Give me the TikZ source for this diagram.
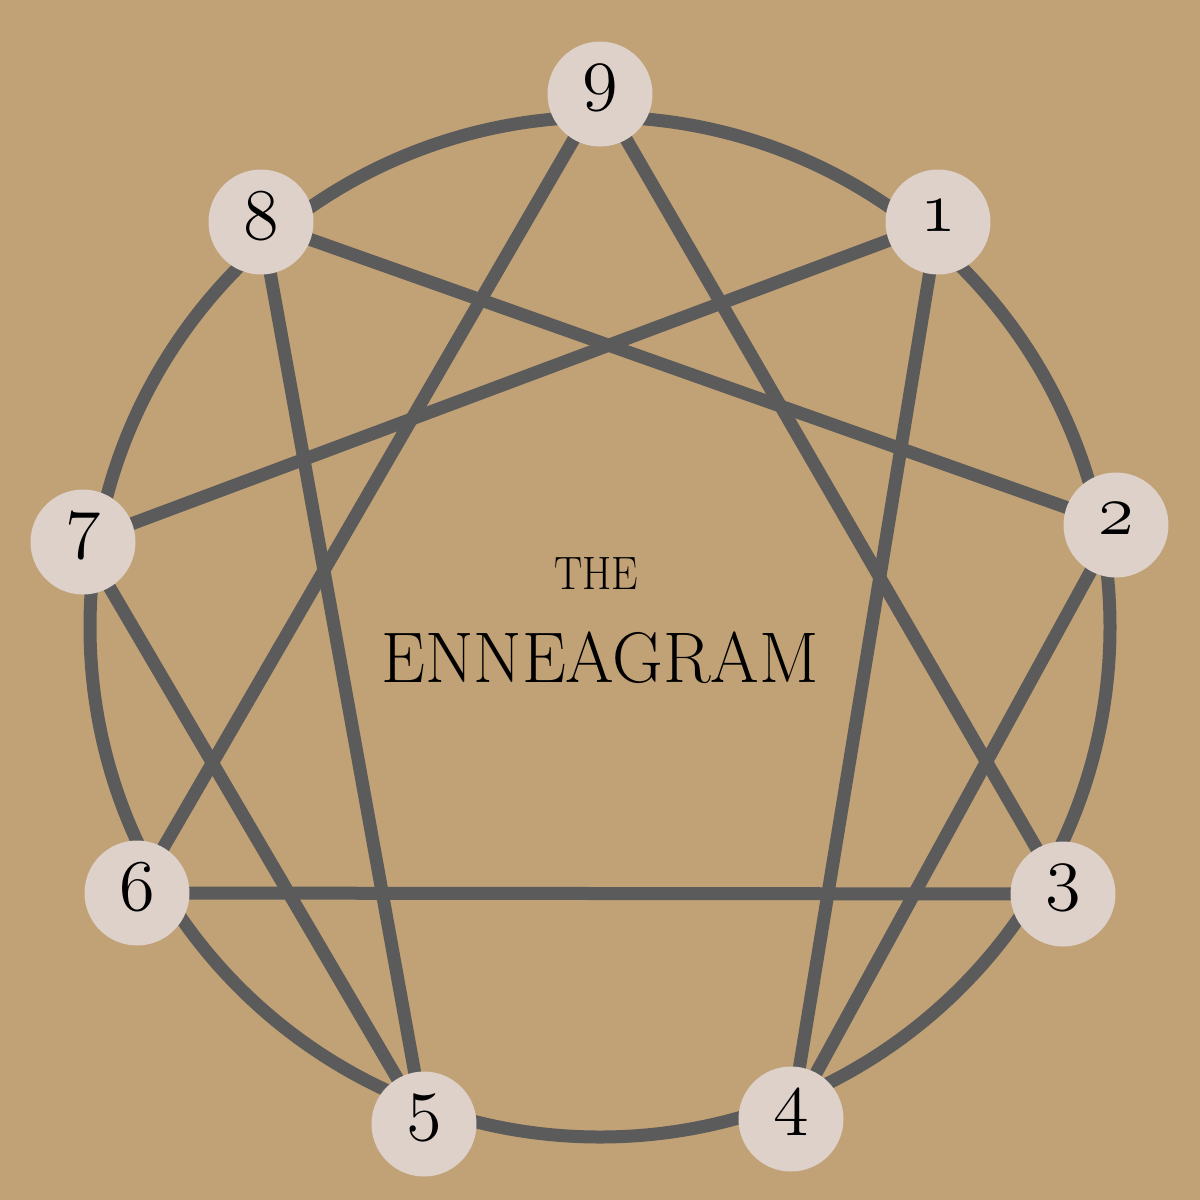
\RequirePackage{fix-cm}
\documentclass[tikz,border=0pt]{standalone}
\usepackage{graphicx}
\definecolor{bgtan}{HTML}{C1A176}
\definecolor{linegray}{HTML}{5B5B5B}
\definecolor{nodefill}{HTML}{DDD1CA}
\newcommand\osnum[1]{{\usefont{OML}{cmm}{m}{it}\raisebox{6bp}[\height][\depth]{#1}}}
\pgfdeclarelayer{bg}
\pgfdeclarelayer{edges}
\pgfsetlayers{bg,edges,main}
\begin{document}
\begin{tikzpicture}[x=1bp,y=-1bp,
  num/.style={circle,fill=nodefill,minimum size=105bp,inner sep=0pt,
    font=\fontsize{73}{73}\selectfont},
  ringline/.style={draw=linegray,line width=13bp},
  chord/.style={draw=linegray,line width=13bp},
  titletext/.style={inner sep=0pt,text=black}]
\useasboundingbox (0,0) rectangle (1200,1200);
\begin{pgfonlayer}{bg}
\fill[bgtan] (0,0) rectangle (1200,1200);
\end{pgfonlayer}

\node[num] (n9) at (600,94) {\osnum{9}};
\node[num] (n1) at (938,222) {\osnum{1}};
\node[num] (n2) at (1116,525) {\osnum{2}};
\node[num] (n3) at (1063,894) {\osnum{3}};
\node[num] (n4) at (791,1119) {\osnum{4}};
\node[num] (n5) at (424,1124) {\osnum{5}};
\node[num] (n6) at (137,893) {\osnum{6}};
\node[num] (n7) at (83,542) {\osnum{7}};
\node[num] (n8) at (261,222) {\osnum{8}};

\node[titletext] (the) at (596,574) {\fontsize{47}{47}\selectfont\scalebox{0.9}[1]{THE}};
\node[titletext] (ennea) at (600,657.5) {\fontsize{72}{72}\selectfont\scalebox{0.975}[1]{ENNEAGRAM}};

\begin{pgfonlayer}{edges}
\draw[ringline] (600,627) circle[radius=510];
\draw[chord] (n9.center) -- (n3.center) -- (n6.center) -- cycle;
\draw[chord] (n1.center) -- (n4.center);
\draw[chord] (n4.center) -- (n2.center);
\draw[chord] (n2.center) -- (n8.center);
\draw[chord] (n8.center) -- (n5.center);
\draw[chord] (n5.center) -- (n7.center);
\draw[chord] (n7.center) -- (n1.center);
\end{pgfonlayer}
\end{tikzpicture}
\end{document}
